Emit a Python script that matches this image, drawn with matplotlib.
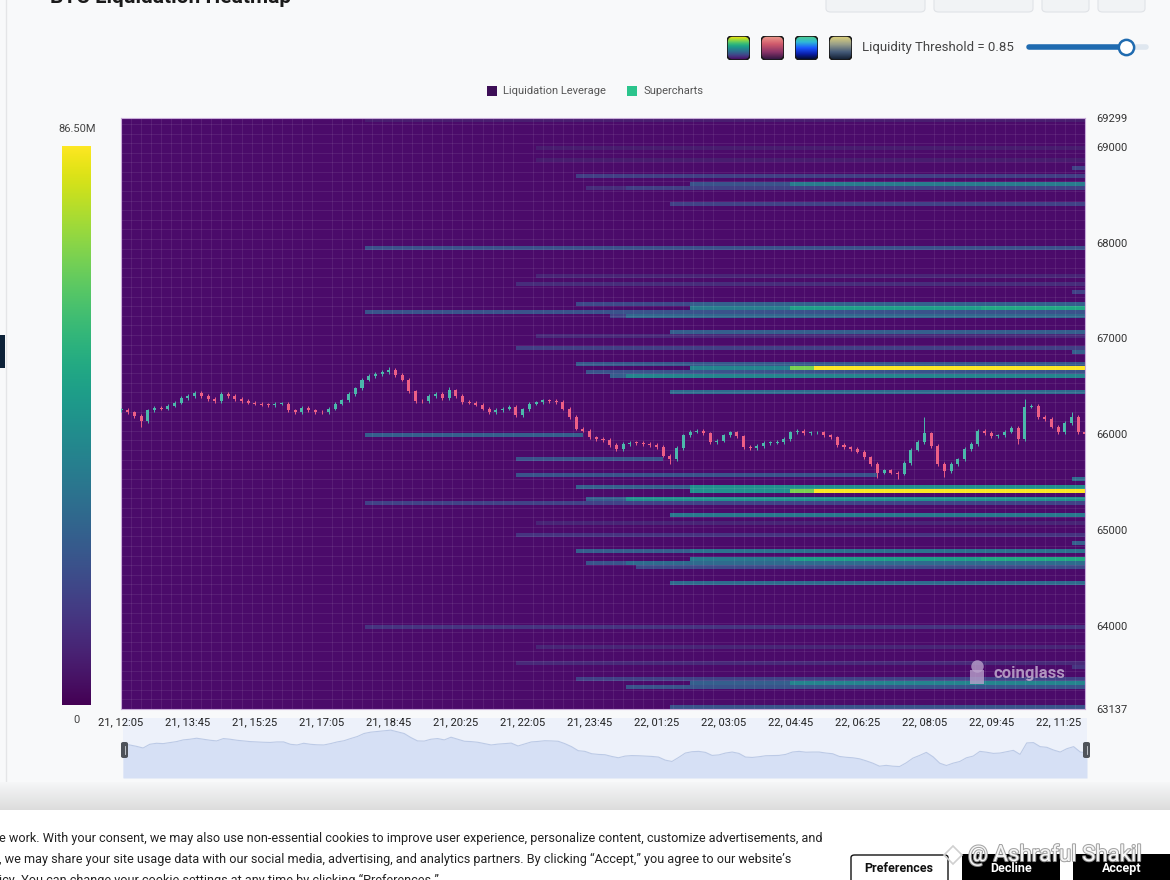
import numpy as np
import matplotlib.pyplot as plt
from matplotlib.patches import FancyBboxPatch, Rectangle
from matplotlib.lines import Line2D
from matplotlib.colors import LinearSegmentedColormap, ListedColormap
import matplotlib.patheffects as pe

plt.rcParams['font.family'] = ['Roboto', 'DejaVu Sans']

#%%
# data

time_labels = ['21, 12:05', '21, 13:45', '21, 15:25', '21, 17:05', '21, 18:45',
               '21, 20:25', '21, 22:05', '21, 23:45', '22, 01:25', '22, 03:05',
               '22, 04:45', '22, 06:25', '22, 08:05', '22, 09:45', '22, 11:25']
price_ticks = [63137, 64000, 65000, 66000, 67000, 68000, 69000, 69299]
vmax = 86.5  # M, top of colour scale

# 10 minute closes, starting 21 12:05
closes = [
    66255, 66230, 66190, 66140, 66250, 66280, 66270, 66300, 66330, 66380,
    66400, 66430, 66400, 66370, 66350, 66420, 66400, 66370, 66350, 66330,
    66320, 66310, 66305, 66320, 66320, 66250, 66230, 66280, 66250, 66235,
    66230, 66270, 66320, 66355, 66420, 66480, 66570, 66610, 66630, 66650,
    66670, 66620, 66570, 66450, 66350, 66345, 66400, 66420, 66380, 66460,
    66400, 66340, 66330, 66310, 66270, 66230, 66255, 66270, 66285, 66200,
    66260, 66320, 66335, 66355, 66350, 66340, 66270, 66180, 66060, 66040,
    65970, 65950, 65940, 65890, 65850, 65900, 65915, 65910, 65900, 65890,
    65870, 65780, 65740, 65860, 65990, 66030, 66040, 66010, 65920, 65935,
    65990, 66020, 65980, 65870, 65860, 65880, 65910, 65915, 65920, 65950,
    66020, 66040, 66015, 66020, 66020, 65990, 65970, 65890, 65865, 65850,
    65820, 65760, 65690, 65600, 65625, 65600, 65590, 65700, 65840, 65920,
    66010, 65880, 65690, 65620, 65690, 65740, 65850, 65900, 66040, 66015,
    65980, 65990, 66030, 66070, 65950, 66290, 66300, 66180, 66160, 66080,
    66020, 66120, 66180, 66020, 66000]
wick_hi = {40: 66700, 120: 66180, 135: 66370, 142: 66230, 49: 66490}
wick_lo = {3: 66075, 82: 65690, 113: 65550, 116: 65530, 123: 65560, 134: 65900}

# liquidity bands: price level -> (start min, end min, value in M)
band_price = [69268, 68987, 68861, 68788, 68684, 68632, 68590, 68392, 67954, 67662,
              67579, 67475, 67370, 67308, 67277, 67235, 67078, 67026, 66922, 66849,
              66745, 66703, 66651, 66599, 66453, 65973, 65733, 65587, 65535, 65441,
              65389, 65337, 65295, 65149, 65056, 64941, 64857, 64764, 64711, 64659,
              64618, 64461, 63982, 63763, 63617, 63565, 63460, 63408, 63356, 63168]
band_steps = [
    [(365, 1440, 7)], [(620, 1440, 7)], [(620, 1440, 7)], [(1420, 1440, 17)],
    [(680, 1440, 16)], [(850, 1000, 22), (1000, 1440, 36)],
    [(695, 755, 11), (755, 1440, 16)], [(820, 1440, 17)], [(365, 1440, 21)],
    [(620, 1440, 9)], [(590, 1440, 11)], [(1420, 1440, 17)],
    [(680, 850, 19), (850, 1440, 26)],
    [(850, 1000, 36), (1000, 1285, 48), (1285, 1440, 52)],
    [(365, 1440, 22)], [(730, 755, 17), (755, 1440, 29)], [(820, 1440, 26)],
    [(620, 1440, 10)], [(590, 1440, 16)], [(1420, 1440, 26)], [(680, 1440, 24)],
    [(850, 1000, 39), (1000, 1035, 69), (1035, 1440, 86.5)],
    [(695, 1440, 22)], [(730, 755, 26), (755, 1440, 39)], [(820, 1440, 30)],
    [(365, 690, 26)], [(590, 810, 22)], [(590, 1130, 22)], [(1420, 1440, 30)],
    [(680, 850, 26), (850, 1440, 43)],
    [(850, 1000, 43), (1000, 1035, 69), (1035, 1440, 86.5)],
    [(695, 755, 26), (755, 1440, 43)], [(365, 1440, 17)], [(820, 1440, 35)],
    [(620, 1440, 9)], [(590, 1440, 13)], [(1420, 1440, 26)],
    [(680, 850, 26), (850, 1440, 33)],
    [(850, 1000, 35), (1000, 1285, 48), (1285, 1440, 52)],
    [(695, 755, 22), (755, 1440, 30)], [(770, 1440, 19)], [(820, 1440, 30)],
    [(365, 1440, 13)], [(620, 1440, 9)], [(590, 1440, 10)], [(1420, 1440, 13)],
    [(680, 1440, 17)], [(850, 1000, 26), (1000, 1440, 39)], [(755, 1440, 22)],
    [(820, 1440, 22)]]

#%%
W, H = 1170, 880
fig = plt.figure(figsize=(11.7, 8.8), dpi=100)
fig.patch.set_facecolor('#f8f9fa')


def fx(px):
    return px / W


def fy(py):
    return 1 - py / H


def add_ax(x0, y0, x1, y1):
    return fig.add_axes([x0 / W, 1 - y1 / H, (x1 - x0) / W, (y1 - y0) / H])


# viridis with the slightly brighter purple floor seen on the site
vcols = plt.get_cmap('viridis')(np.linspace(0, 1, 256))
vcols[0] = (0.294, 0.043, 0.416, 1.0)
heat_cmap = ListedColormap(vcols)

#%% navigator (drawn first so tick labels of the heatmap sit on top)
ct = np.arange(len(closes)) * 10
nav = add_ax(123, 718, 1087, 778)
nav.set_zorder(1)
nav.set_facecolor('#edf1fa')
nav.fill_between(ct, closes, 65250, color='#d6e0f5', lw=0)
nav.plot(ct, closes, color='#bccae6', lw=0.8)
nav.set_xlim(0, 1440)
nav.set_ylim(65250, 67030)
nav.set_xticks([])
nav.set_yticks([])
for s in nav.spines.values():
    s.set_visible(False)
for hx in (124, 1086):
    fig.add_artist(FancyBboxPatch((fx(hx - 3), fy(758)), fx(7), 16 / H,
                                  boxstyle='round,pad=0,rounding_size=0.002',
                                  transform=fig.transFigure, fc='#4f535a', ec='none',
                                  zorder=5))
    fig.add_artist(Line2D([fx(hx + 0.5)] * 2, [fy(754), fy(746)], color='#cfd3d8', lw=0.6,
                          zorder=6))

#%% heatmap
ax = add_ax(121, 118, 1085, 709)
ax.set_zorder(3)
t_edges = np.arange(0, 1445, 5)
p_edges = np.linspace(63137, 69299, 149)
grid = np.zeros((len(p_edges) - 1, len(t_edges) - 1))
for p, steps in zip(band_price, band_steps):
    r = min(max(np.searchsorted(p_edges, p) - 1, 0), grid.shape[0] - 1)
    for t0, t1, v in steps:
        grid[r, t0 // 5:t1 // 5] = np.maximum(grid[r, t0 // 5:t1 // 5], v)
ax.pcolormesh(t_edges, p_edges, grid, cmap=heat_cmap, vmin=0, vmax=vmax,
              shading='flat', rasterized=True)

# candles
up, down = '#4cb8ab', '#ec5f86'
opens = [closes[0]] + closes[:-1]
cols, bots, hts, his, los = [], [], [], [], []
for i, (o, c) in enumerate(zip(opens, closes)):
    cols.append(up if c >= o else down)
    bots.append(min(o, c))
    hts.append(max(abs(c - o), 8))
    his.append(wick_hi.get(i, max(o, c) + 18))
    los.append(wick_lo.get(i, min(o, c) - 18))
ax.vlines(ct, los, his, colors=cols, lw=0.7, zorder=3)
ax.bar(ct, hts, bottom=bots, width=4.5, color=cols, lw=0, zorder=4)

ax.set_xlim(0, 1440)
ax.set_ylim(63137, 69299)
ax.set_xticks(np.arange(0, 1401, 100))
ax.set_xticklabels(time_labels)
ax.yaxis.tick_right()
ax.set_yticks(price_ticks)
ax.set_yticklabels([str(p) for p in price_ticks])
ax.tick_params(axis='x', length=0, pad=6, labelsize=8, labelcolor='#222222')
ax.tick_params(axis='y', length=0, pad=8, labelsize=8, labelcolor='#333333')
ax.set_xticks(np.arange(0, 1441, 15), minor=True)
ax.set_yticks(np.arange(63137, 69299, 100), minor=True)
ax.tick_params(which='minor', length=0)
ax.grid(which='minor', color='white', alpha=0.08, lw=0.7)
ax.grid(which='major', visible=False)
for s in ax.spines.values():
    s.set_color('#c9acd9')
    s.set_linewidth(0.8)

# coinglass watermark
fig.add_artist(Line2D([fx(977)], [fy(666)], marker='o', ms=9, mfc='#b9a1cb',
                      mec='none', alpha=0.8, zorder=5))
fig.add_artist(Rectangle((fx(970), fy(684)), fx(14), 14 / H, fc='#b9a1cb',
                         ec='none', alpha=0.8, zorder=5))
fig.text(fx(993), fy(673), 'coinglass', fontsize=12, weight='bold',
         color='#c2adcf', alpha=0.85, va='center', zorder=5)

#%% colour bar
cax = add_ax(62, 146, 91, 705)
cax.imshow(np.linspace(1, 0, 256)[:, None], cmap='viridis', aspect='auto',
           extent=[0, 1, 0, 1])
cax.axis('off')
fig.text(fx(77), fy(129), '86.50M', fontsize=8, color='#444444', ha='center', va='center')
fig.text(fx(76), fy(720), '0', fontsize=8, color='#444444', ha='center', va='center')

#%% legend
fig.add_artist(Rectangle((fx(487), fy(96)), fx(10), 10 / H, fc='#3d0f57', ec='none'))
fig.text(fx(503), fy(91), 'Liquidation Leverage', fontsize=8, color='#555555', va='center')
fig.add_artist(Rectangle((fx(627), fy(96)), fx(10), 10 / H, fc='#2bc48c', ec='none'))
fig.text(fx(643), fy(91), 'Supercharts', fontsize=8, color='#555555', va='center')

#%% top controls
fig.text(fx(50), fy(3), 'BTC Liquidation Heatmap', fontsize=15, weight='bold',
         color='#1a1a1a', va='baseline')
for x0, x1 in [(826, 925), (934, 1033), (1042, 1089), (1098, 1145)]:
    fig.add_artist(FancyBboxPatch((fx(x0), fy(12)), fx(x1 - x0), 24 / H,
                                  boxstyle='round,pad=0,rounding_size=0.004',
                                  transform=fig.transFigure, fc='#f1f3f5', ec='#e0e3e7', lw=0.8))

swatch_cmaps = [
    'viridis',
    LinearSegmentedColormap.from_list('pk', ['#2b1540', '#8a3468', '#cf5a6c', '#ee9b8c']),
    LinearSegmentedColormap.from_list('bl', ['#020920', '#0a1fa8', '#1a55ff', '#2fb8d8', '#4fd08a']),
    LinearSegmentedColormap.from_list('cv', ['#101c2e', '#445a78', '#9aa08a', '#e0d47a']),
]
for i, cm in enumerate(swatch_cmaps):
    x0 = 727 + 34 * i
    sax = add_ax(x0, 36, x0 + 23, 60)
    im = sax.imshow(np.linspace(1, 0, 64)[:, None], cmap=cm, aspect='auto', extent=[0, 1, 0, 1])
    box = FancyBboxPatch((0, 0), 1, 1, boxstyle='round,pad=0,rounding_size=0.25',
                         transform=sax.transAxes, fc='none', ec='#1a1a1a', lw=1.2)
    sax.add_patch(box)
    im.set_clip_path(box)
    sax.axis('off')

fig.text(fx(862), fy(47), 'Liquidity Threshold = 0.85', fontsize=9.5, color='#444444', va='center')
fig.add_artist(Line2D([fx(1126), fx(1146)], [fy(47)] * 2, color='#dfe7ef', lw=4,
                      solid_capstyle='round'))
fig.add_artist(Line2D([fx(1029), fx(1126)], [fy(47)] * 2, color='#1f6bb0', lw=4,
                      solid_capstyle='round'))
fig.add_artist(Line2D([fx(1126)], [fy(47)], marker='o', ms=11, mfc='white',
                      mec='#1f6bb0', mew=1.8))

# page edge bits
fig.add_artist(Line2D([fx(6)] * 2, [fy(0), fy(782)], color='#e4e5e7', lw=1))
fig.add_artist(Rectangle((0, fy(368)), fx(5), 33 / H, fc='#0d2238', ec='none'))

#%% cookie banner
shade = add_ax(0, 782, 1170, 811)
shade.set_zorder(6)
shade.imshow(np.linspace(0, 1, 32)[:, None],
             cmap=LinearSegmentedColormap.from_list('sh', ['#f6f7f8', '#dcdcdc']),
             aspect='auto', extent=[0, 1, 0, 1])
shade.axis('off')
fig.add_artist(Rectangle((0, 0), 1, fy(810), fc='white', ec='none', zorder=7))

banner = [
    'e work. With your consent, we may also use non-essential cookies to improve user experience, '
    'personalize content, customize advertisements, and',
    ', we may share your site usage data with our social media, advertising, and analytics partners. '
    'By clicking \u201cAccept,\u201d you agree to our website\u2019s',
    'icy. You can change your cookie settings at any time by clicking \u201cPreferences.\u201d',
]
for j, line in enumerate(banner):
    fig.text(fx(-1), fy(838 + 21 * j), line, fontsize=9.1, color='#222222', va='center',
             zorder=8)

fig.add_artist(FancyBboxPatch((fx(851), fy(884)), fx(97), 29 / H,
                              boxstyle='round,pad=0,rounding_size=0.003',
                              transform=fig.transFigure, fc='white', ec='#111111', lw=1,
                              zorder=8))
fig.text(fx(899), fy(868), 'Preferences', fontsize=9, weight='bold', color='#111111',
         ha='center', va='center', zorder=9)
for x0, lab in [(962, 'Decline'), (1073, 'Accept')]:
    fig.add_artist(Rectangle((fx(x0), 0), fx(98), 26 / H, fc='black', ec='none', zorder=8))
    fig.text(fx(x0 + 49), fy(868), lab, fontsize=9, weight='bold', color='white',
             ha='center', va='center', zorder=9)

fig.add_artist(Line2D([fx(953)], [fy(855)], marker='D', ms=9, mfc='none',
                      mec='#d0d0d0', mew=1.2, zorder=10))
fig.text(fx(968), fy(855), '@ Ashraful Shakil', fontsize=16, color='white', alpha=0.9,
         va='center', zorder=10,
         path_effects=[pe.withStroke(linewidth=1.5, foreground='#9a9a9a')])

fig.savefig('out.png', dpi=100, facecolor=fig.get_facecolor())
